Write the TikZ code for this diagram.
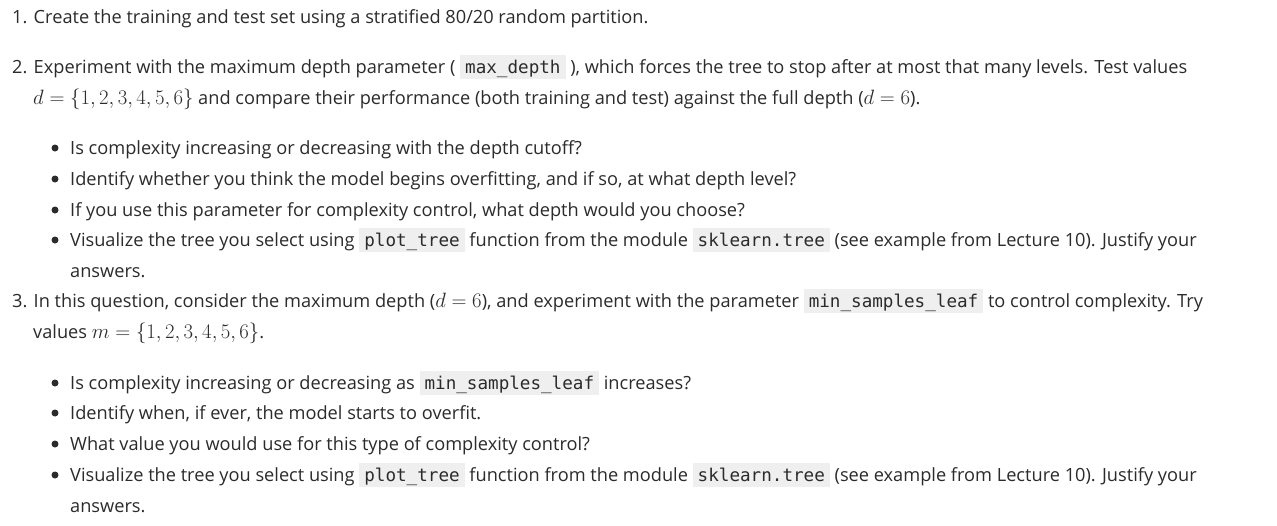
\documentclass[tikz,border=0pt]{standalone}
\usepackage{fontspec}
\setmainfont{Open Sans}
\setmonofont{DejaVu Sans Mono}
\definecolor{txt}{HTML}{2B2B2B}
\definecolor{codebg}{HTML}{EFEFEF}
\newcommand{\cd}[1]{{\setlength{\fboxsep}{0pt}\colorbox{codebg}{\rule[-6pt]{0pt}{24pt}\hspace{5pt}{\ttfamily\fontsize{17.6}{19}\selectfont #1}\hspace{5pt}}}}
\newcommand{\mth}[1]{{\fontsize{21}{22}\selectfont$#1$}}
\begin{document}
\begin{tikzpicture}[x=1pt,y=-1pt,
  ln/.style={anchor=base west,inner sep=0pt,text=txt,font=\fontsize{18.2}{20}\selectfont},
  bul/.style={circle,fill=txt,inner sep=0pt,minimum size=7pt}]
\useasboundingbox (0,0) rectangle (1277,525);
\fill[white] (0,0) rectangle (1277,525);
\node[ln] (l1) at (12,23) {1. Create the training and test set using a stratified 80/20 random partition.};
\node[ln] (l2) at (12,73) {2. Experiment with the maximum depth parameter ( \cd{max\_depth} ), which forces the tree to stop after at most that many levels. Test values};
\node[ln] (l3) at (33,104) {\mth{d=\{1,2,3,4,5,6\}} and compare their performance (both training and test) against the full depth (\mth{d=6}).};
\foreach \y/\n in {148/b1,179/b2,210/b3,240/b4,383/b5,413/b6,444/b7,475/b8}
  \node[bul] (\n) at (55,\y) {};
\node[ln] (t1) at (70,154) {Is complexity increasing or decreasing with the depth cutoff?};
\node[ln] (t2) at (70,185) {Identify whether you think the model begins overfitting, and if so, at what depth level?};
\node[ln] (t3) at (70,216) {If you use this parameter for complexity control, what depth would you choose?};
\node[ln] (t4) at (70,246) {Visualize the tree you select using \cd{plot\_tree} function from the module \cd{sklearn.tree} (see example from Lecture 10). Justify your};
\node[ln] (t4b) at (70,277) {answers.};
\node[ln] (l4) at (12,307) {3. In this question, consider the maximum depth (\mth{d=6}), and experiment with the parameter \cd{min\_samples\_leaf} to control complexity. Try};
\node[ln] (l5) at (33,338) {values \mth{m=\{1,2,3,4,5,6\}}.};
\node[ln] (t5) at (70,389) {Is complexity increasing or decreasing as \cd{min\_samples\_leaf} increases?};
\node[ln] (t6) at (70,419) {Identify when, if ever, the model starts to overfit.};
\node[ln] (t7) at (70,450) {What value you would use for this type of complexity control?};
\node[ln] (t8) at (70,481) {Visualize the tree you select using \cd{plot\_tree} function from the module \cd{sklearn.tree} (see example from Lecture 10). Justify your};
\node[ln] (t8b) at (70,512) {answers.};
\end{tikzpicture}
\end{document}
